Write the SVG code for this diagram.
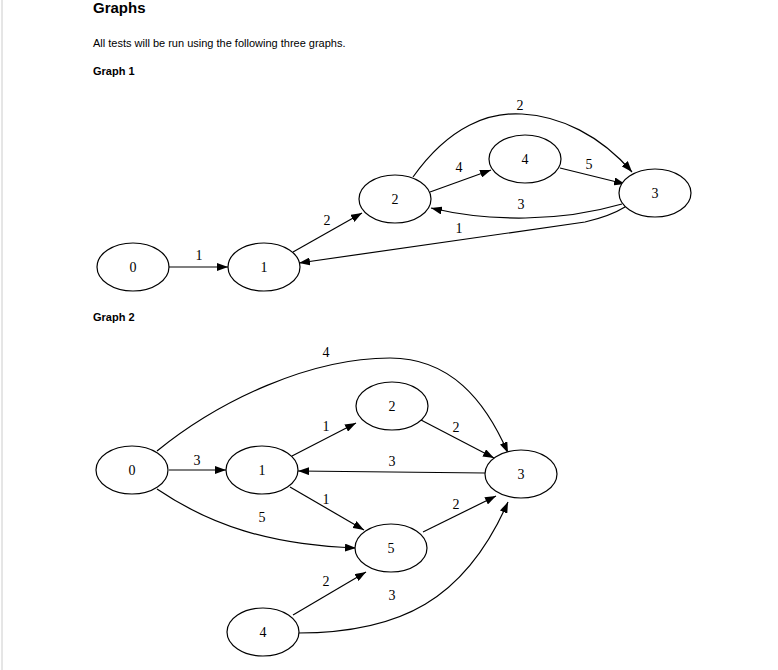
<svg xmlns="http://www.w3.org/2000/svg" width="778" height="670" viewBox="0 0 778 670">
<defs>
<marker id="ah" markerWidth="11" markerHeight="8" refX="11" refY="4" orient="auto" markerUnits="userSpaceOnUse"><path d="M0,0 L11,4 L0,8 Z" fill="#000"/></marker>
<style>
.h{font-family:"Liberation Sans",Arial,sans-serif;fill:#000}
.n ellipse{fill:#fff;stroke:#000;stroke-width:1.2}
.n text,.l{font-family:"Liberation Serif","Times New Roman",serif;font-size:14px;text-anchor:middle;fill:#000}
.e path{fill:none;stroke:#000;stroke-width:1.2;marker-end:url(#ah)}
</style>
</defs>
<rect width="778" height="670" fill="#fff"/>
<line x1="2" y1="0" x2="2" y2="670" stroke="#ccc"/>
<text class="h" x="93" y="13" font-size="15" font-weight="bold">Graphs</text>
<text class="h" x="93" y="47" font-size="11">All tests will be run using the following three graphs.</text>
<text class="h" x="93" y="75" font-size="11" font-weight="bold">Graph 1</text>
<text class="h" x="93" y="321" font-size="11" font-weight="bold">Graph 2</text>

<g id="g1-edges" class="e">
<path d="M168,267 L228,267"/>
<path d="M293,252 L362,213"/>
<path d="M430,192 L491,170"/>
<path d="M560,168 L625,184"/>
<path d="M413,177 C450,125 490,112 522,114 C560,116 600,135 632,172"/>
<path d="M622,204 C560,222 490,222 431,208"/>
<path d="M625,207 C612,215 598,219 585,222 L299,263"/>
</g>
<g class="l">
<text class="l" x="199" y="260">1</text>
<text class="l" x="327" y="225">2</text>
<text class="l" x="459" y="172">4</text>
<text class="l" x="589" y="169">5</text>
<text class="l" x="520" y="110">2</text>
<text class="l" x="521" y="209">3</text>
<text class="l" x="459" y="233">1</text>
</g>
<g id="g1-n0" class="n"><ellipse cx="133" cy="267" rx="36" ry="24"/><text x="133" y="272">0</text></g>
<g id="g1-n1" class="n"><ellipse cx="264" cy="267" rx="36" ry="24"/><text x="264" y="272">1</text></g>
<g id="g1-n2" class="n"><ellipse cx="395" cy="199" rx="36" ry="24"/><text x="395" y="204">2</text></g>
<g id="g1-n4" class="n"><ellipse cx="525" cy="159" rx="36" ry="24"/><text x="525" y="164">4</text></g>
<g id="g1-n3" class="n"><ellipse cx="655" cy="193" rx="36" ry="24"/><text x="655" y="198">3</text></g>

<g id="g2-edges" class="e">
<path d="M157,451 C220,400 310,358 390,358 C450,358 485,400 508,453"/>
<path d="M169,470 L226,470"/>
<path d="M157,489 C210,525 270,545 356,548"/>
<path d="M292,456 L356,423"/>
<path d="M421,420 L494,458"/>
<path d="M485,473 L298,471"/>
<path d="M290,487 L364,530"/>
<path d="M423,532 L496,496"/>
<path d="M293,615 L366,572"/>
<path d="M298,633 C400,633 465,600 508,502"/>
</g>
<g class="l">
<text class="l" x="326" y="357">4</text>
<text class="l" x="197" y="465">3</text>
<text class="l" x="262" y="522">5</text>
<text class="l" x="326" y="431">1</text>
<text class="l" x="456" y="432">2</text>
<text class="l" x="392" y="466">3</text>
<text class="l" x="326" y="504">1</text>
<text class="l" x="456" y="509">2</text>
<text class="l" x="326" y="586">2</text>
<text class="l" x="392" y="600">3</text>
</g>
<g id="g2-n0" class="n"><ellipse cx="132" cy="470" rx="36" ry="24"/><text x="132" y="475">0</text></g>
<g id="g2-n1" class="n"><ellipse cx="262" cy="470" rx="36" ry="24"/><text x="262" y="475">1</text></g>
<g id="g2-n2" class="n"><ellipse cx="392" cy="406" rx="36" ry="24"/><text x="392" y="411">2</text></g>
<g id="g2-n3" class="n"><ellipse cx="521" cy="474" rx="36" ry="24"/><text x="521" y="479">3</text></g>
<g id="g2-n5" class="n"><ellipse cx="391" cy="548" rx="36" ry="24"/><text x="391" y="553">5</text></g>
<g id="g2-n4" class="n"><ellipse cx="263" cy="632" rx="36" ry="24"/><text x="263" y="637">4</text></g>
</svg>
